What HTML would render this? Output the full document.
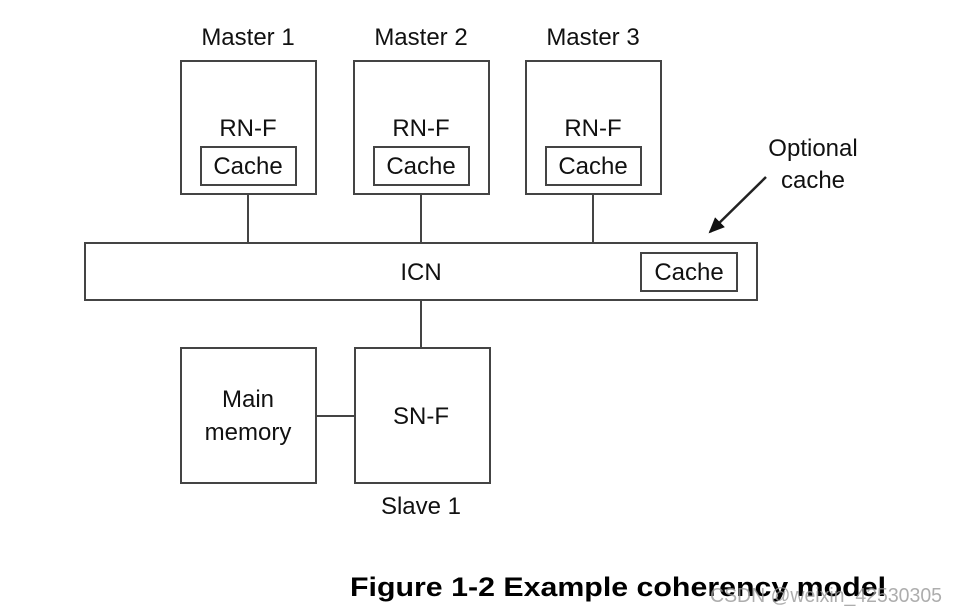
<!DOCTYPE html>
<html><head><style>html,body{margin:0;padding:0;background:#fff;}svg{display:block;}svg text{font-family:"Liberation Sans",Arial,sans-serif;}</style></head>
<body>
<svg width="958" height="614" viewBox="0 0 958 614" xmlns="http://www.w3.org/2000/svg">
<defs><marker id="ah" markerWidth="16" markerHeight="14" refX="14" refY="7" orient="auto" markerUnits="userSpaceOnUse"><path d="M0,0 L16,7 L0,14 z" fill="#111"/></marker></defs>
<g fill="none" stroke="#444" stroke-width="2">
<rect x="181" y="61" width="135" height="133"/>
<rect x="201" y="147" width="95" height="38"/>
<rect x="354" y="61" width="135" height="133"/>
<rect x="374" y="147" width="95" height="38"/>
<rect x="526" y="61" width="135" height="133"/>
<rect x="546" y="147" width="95" height="38"/>
<rect x="85" y="243" width="672" height="57"/>
<rect x="641" y="253" width="96" height="38"/>
<rect x="181" y="348" width="135" height="135"/>
<rect x="355" y="348" width="135" height="135"/>
<line x1="248" y1="194" x2="248" y2="243"/>
<line x1="421" y1="194" x2="421" y2="243"/>
<line x1="593" y1="194" x2="593" y2="243"/>
<line x1="421" y1="300" x2="421" y2="348"/>
<line x1="316" y1="416" x2="355" y2="416"/>
</g>
<line x1="766" y1="177" x2="710" y2="232" stroke="#222" stroke-width="2.5" marker-end="url(#ah)"/>
<g font-size="24" fill="#111" text-anchor="middle">
<text x="248" y="45">Master 1</text>
<text x="421" y="45">Master 2</text>
<text x="593" y="45">Master 3</text>
<text x="248" y="136">RN-F</text>
<text x="421" y="136">RN-F</text>
<text x="593" y="136">RN-F</text>
<text x="248" y="174">Cache</text>
<text x="421" y="174">Cache</text>
<text x="593" y="174">Cache</text>
<text x="689" y="280">Cache</text>
<text x="421" y="280">ICN</text>
<text x="813" y="156">Optional</text>
<text x="813" y="188">cache</text>
<text x="248" y="407">Main</text>
<text x="248" y="440">memory</text>
<text x="421" y="424">SN-F</text>
<text x="421" y="514">Slave 1</text>
</g>
<text x="350" y="596" font-size="27" font-weight="bold" fill="#000" textLength="536" lengthAdjust="spacingAndGlyphs">Figure 1-2 Example coherency model</text>
<text x="710" y="602" font-size="20" fill="#999" opacity="0.8" textLength="232" lengthAdjust="spacingAndGlyphs">CSDN @weixin_42530305</text>
</svg>
</body></html>
